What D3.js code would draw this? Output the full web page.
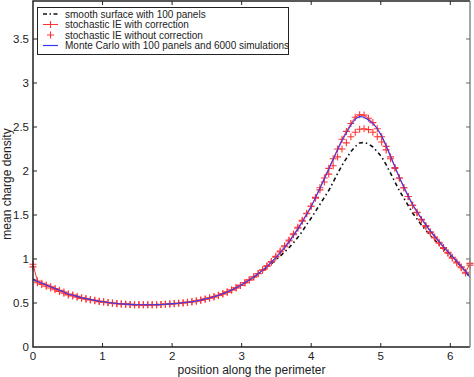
<!DOCTYPE html>
<html>
<head>
<meta charset="utf-8">
<script src="https://cdn.jsdelivr.net/npm/d3@7"></script>
<style>
  body { margin: 0; background: #fff; }
  text { font-family: "Liberation Sans", Arial, sans-serif; fill: #222; }
</style>
</head>
<body>
<script>
var w = 474, h = 377;

// tick values
var xTicks = [0, 1, 2, 3, 4, 5, 6];
var yTicks = [0, 0.5, 1, 1.5, 2, 2.5, 3, 3.5];

var seriesNames = ["smooth surface with 100 panels",
                   "stochastic IE with correction",
                   "stochastic IE without correction",
                   "Monte Carlo with 100 panels and 6000 simulations"];

// mean charge density on 100 panels
var monteCarlo = [0.77,0.745,0.725,0.705,0.685,0.665,0.645,0.625,0.60,0.59,
  0.575,0.56,0.55,0.54,0.53,0.52,0.515,0.505,0.50,0.495,
  0.49,0.487,0.484,0.481,0.48,0.48,0.48,0.48,0.481,0.483,
  0.486,0.49,0.493,0.497,0.502,0.508,0.515,0.523,0.533,0.545,
  0.557,0.571,0.587,0.605,0.625,0.648,0.673,0.70,0.73,0.762,
  0.796,0.833,0.873,0.916,0.963,1.015,1.07,1.13,1.195,1.265,
  1.34,1.42,1.505,1.59,1.695,1.80,1.91,2.02,2.13,2.24,
  2.345,2.435,2.52,2.59,2.62,2.61,2.58,2.54,2.48,2.40,
  2.29,2.17,2.05,1.93,1.82,1.72,1.62,1.54,1.46,1.39,
  1.32,1.26,1.20,1.14,1.085,1.03,0.975,0.92,0.86,0.79];

var smooth = [0.77,0.745,0.725,0.705,0.685,0.665,0.645,0.625,0.60,0.59,
  0.575,0.56,0.55,0.54,0.53,0.52,0.515,0.505,0.50,0.495,
  0.49,0.487,0.484,0.481,0.48,0.48,0.48,0.48,0.481,0.483,
  0.486,0.49,0.493,0.497,0.502,0.508,0.515,0.523,0.533,0.545,
  0.557,0.571,0.587,0.605,0.625,0.648,0.672,0.698,0.727,0.758,
  0.79,0.829,0.864,0.902,0.944,0.99,1.033,1.079,1.129,1.183,
  1.246,1.313,1.392,1.463,1.542,1.62,1.70,1.778,1.874,1.971,
  2.064,2.143,2.218,2.279,2.319,2.323,2.309,2.273,2.22,2.16,
  2.072,1.975,1.876,1.776,1.693,1.608,1.523,1.455,1.387,1.327,
  1.267,1.216,1.164,1.112,1.063,1.015,0.965,0.914,0.857,0.79];

var withCorr = [0.94,0.75,0.725,0.705,0.685,0.665,0.645,0.625,0.602,0.59,
  0.575,0.56,0.55,0.54,0.53,0.52,0.515,0.505,0.50,0.495,
  0.49,0.487,0.484,0.481,0.48,0.48,0.48,0.48,0.481,0.483,
  0.486,0.49,0.493,0.497,0.502,0.508,0.515,0.523,0.533,0.545,
  0.557,0.571,0.587,0.605,0.625,0.648,0.673,0.70,0.73,0.762,
  0.796,0.833,0.873,0.916,0.963,1.02,1.08,1.14,1.205,1.275,
  1.35,1.43,1.515,1.60,1.70,1.81,1.92,2.03,2.14,2.25,
  2.36,2.45,2.54,2.61,2.64,2.635,2.60,2.55,2.48,2.39,
  2.28,2.16,2.04,1.92,1.81,1.71,1.61,1.53,1.45,1.38,
  1.31,1.25,1.19,1.13,1.075,1.02,0.965,0.91,0.85,0.95];

var withoutCorr = [0.91,0.73,0.71,0.69,0.67,0.65,0.632,0.612,0.592,0.58,
  0.566,0.553,0.543,0.534,0.525,0.516,0.51,0.502,0.497,0.492,
  0.488,0.485,0.482,0.48,0.479,0.479,0.479,0.479,0.48,0.482,
  0.485,0.489,0.492,0.496,0.501,0.507,0.514,0.522,0.532,0.544,
  0.556,0.57,0.586,0.604,0.624,0.647,0.672,0.70,0.73,0.763,
  0.798,0.836,0.877,0.922,0.972,1.03,1.09,1.15,1.215,1.285,
  1.36,1.44,1.52,1.60,1.69,1.785,1.875,1.965,2.06,2.16,
  2.25,2.32,2.39,2.44,2.475,2.48,2.47,2.44,2.39,2.33,
  2.24,2.14,2.03,1.92,1.81,1.71,1.61,1.525,1.445,1.37,
  1.30,1.24,1.18,1.12,1.065,1.01,0.955,0.90,0.84,0.93];

var panels = d3.range(monteCarlo.length).map(function(i) { return i * 2 * Math.PI / (monteCarlo.length - 1); });

var pLeft = 33, pRight = 470, pTop = 1, pBottom = 347;

var x = d3.scaleLinear().domain([0, 2 * Math.PI]).range([pLeft, pRight]);
var y = d3.scaleLinear().domain([0, (pBottom - pTop) / 88]).range([pBottom, pTop]);

var svg = d3.select("body").append("svg")
    .attr("width", w)
    .attr("height", h);

function line(vals) {
  return d3.line()
    .x(function(d, i) { return x(panels[i]); })
    .y(function(d) { return y(d); })(vals);
}

function plus(g, cx, cy, s) {
  g.append("path")
    .attr("d", "M" + (cx - s) + "," + cy + "H" + (cx + s) + "M" + cx + "," + (cy - s) + "V" + (cy + s))
    .attr("stroke", "#ff3535")
    .attr("stroke-width", 1.1)
    .attr("fill", "none");
}

var plot = svg.append("g");

// smooth surface: black dash-dot
plot.append("path")
    .attr("d", line(smooth))
    .attr("fill", "none")
    .attr("stroke", "#111")
    .attr("stroke-width", 1.6)
    .attr("stroke-dasharray", "4,3,1.5,3");

// with correction: red line + markers
plot.append("path")
    .attr("d", line(withCorr))
    .attr("fill", "none")
    .attr("stroke", "#ff3535")
    .attr("stroke-width", 1);
var m1 = plot.append("g");
withCorr.forEach(function(d, i) { plus(m1, x(panels[i]), y(d), 3.5); });

// without correction: markers only
var m2 = plot.append("g");
withoutCorr.forEach(function(d, i) { plus(m2, x(panels[i]), y(d), 3.5); });

// Monte Carlo: blue line
plot.append("path")
    .attr("d", line(monteCarlo))
    .attr("fill", "none")
    .attr("stroke", "#3a3af0")
    .attr("stroke-width", 1.1);

// frame
svg.append("path")
    .attr("d", "M" + pRight + "," + pTop + "H" + pLeft + "V" + pBottom + "H" + pRight)
    .attr("fill", "none")
    .attr("stroke", "#222")
    .attr("stroke-width", 1.5);
svg.append("line")
    .attr("x1", pRight).attr("x2", pRight)
    .attr("y1", pTop).attr("y2", pBottom)
    .attr("stroke", "#888")
    .attr("stroke-width", 1.5);

// ticks on all four sides, pointing inward
var tickLen = 4;
xTicks.forEach(function(t) {
  if (t === 0) return;
  svg.append("line").attr("x1", x(t)).attr("x2", x(t)).attr("y1", pBottom).attr("y2", pBottom - tickLen).attr("stroke", "#222");
  svg.append("line").attr("x1", x(t)).attr("x2", x(t)).attr("y1", pTop).attr("y2", pTop + tickLen).attr("stroke", "#222");
});
yTicks.forEach(function(t) {
  if (t === 0) return;
  svg.append("line").attr("x1", pLeft).attr("x2", pLeft + tickLen).attr("y1", y(t)).attr("y2", y(t)).attr("stroke", "#222");
  svg.append("line").attr("x1", pRight).attr("x2", pRight - tickLen).attr("y1", y(t)).attr("y2", y(t)).attr("stroke", "#666");
});

svg.append("g").selectAll("text")
    .data(xTicks)
    .enter().append("text")
    .attr("x", function(d) { return x(d); })
    .attr("y", pBottom + 13)
    .attr("text-anchor", "middle")
    .style("font-size", "11.5px")
    .text(function(d) { return d; });

svg.append("g").selectAll("text")
    .data(yTicks)
    .enter().append("text")
    .attr("x", pLeft - 4)
    .attr("y", function(d) { return y(d); })
    .attr("dy", "0.35em")
    .attr("text-anchor", "end")
    .style("font-size", "11.5px")
    .text(function(d) { return d; });

// axis titles
svg.append("text")
    .attr("x", (pLeft + pRight) / 2)
    .attr("y", 374)
    .attr("text-anchor", "middle")
    .style("font-size", "12px")
    .text("position along the perimeter");

svg.append("text")
    .attr("transform", "translate(11,184) rotate(-90)")
    .attr("text-anchor", "middle")
    .style("font-size", "12px")
    .text("mean charge density");

// legend
var lg = svg.append("g");
lg.append("rect")
    .attr("x", 37.5).attr("y", 7.5)
    .attr("width", 251).attr("height", 47)
    .attr("fill", "#fff")
    .attr("stroke", "#222")
    .attr("stroke-width", 1);

var rows = [14, 24.5, 35, 45.5];
lg.append("line").attr("x1", 43).attr("x2", 58).attr("y1", rows[0]).attr("y2", rows[0])
    .attr("stroke", "#111").attr("stroke-width", 1.4).attr("stroke-dasharray", "4,2.5,1.5,2.5");
lg.append("line").attr("x1", 43).attr("x2", 58).attr("y1", rows[1]).attr("y2", rows[1])
    .attr("stroke", "#ff3535").attr("stroke-width", 1);
plus(lg, 50.5, rows[1], 3.5);
plus(lg, 50.5, rows[2], 3.5);
lg.append("line").attr("x1", 43).attr("x2", 58).attr("y1", rows[3]).attr("y2", rows[3])
    .attr("stroke", "#3a3af0").attr("stroke-width", 1.2);

lg.selectAll("text.lbl")
    .data(seriesNames)
    .enter().append("text")
    .attr("class", "lbl")
    .attr("x", 65)
    .attr("y", function(d, i) { return rows[i]; })
    .attr("dy", "0.35em")
    .style("font-size", "10px")
    .text(function(d) { return d; });
</script>
</body>
</html>
